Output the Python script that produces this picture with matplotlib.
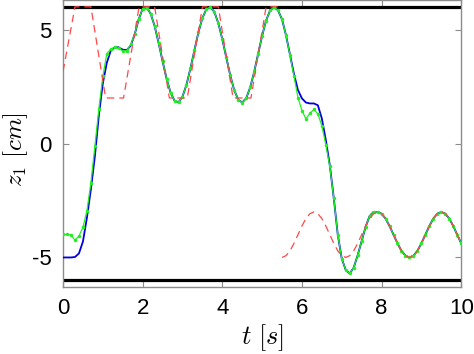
import matplotlib
matplotlib.use("Agg")
import matplotlib.pyplot as plt
import numpy as np

plt.rcParams["font.family"] = "Liberation Sans"
plt.rcParams["mathtext.fontset"] = "cm"
plt.rcParams["axes.unicode_minus"] = False

# sampled every 0.1 s
t = np.round(np.arange(101) * 0.1, 1)

z_actual = [-5.00, -5.00, -5.00, -4.98, -4.82, -4.30, -3.25, -2.00, -0.55, 1.25,
            2.65, 3.55, 4.08, 4.23, 4.22, 4.12, 4.10, 4.30, 4.80, 5.45,
            5.92, 5.97, 5.70, 5.16, 4.42, 3.61, 2.85, 2.24, 1.88, 1.81,
            2.06, 2.58, 3.30, 4.10, 4.88, 5.51, 5.90, 5.99, 5.78, 5.28,
            4.58, 3.78, 2.99, 2.34, 1.93, 1.80, 1.99, 2.46, 3.14, 3.94,
            4.73, 5.40, 5.84, 6.00, 5.84, 5.45, 4.75, 3.90, 3.05, 2.35,
            1.98, 1.80, 1.76, 1.76, 1.68, 1.10, 0.15, -0.95, -2.40, -4.00,
            -5.05, -5.55, -5.70, -5.45, -4.90, -4.28, -3.65, -3.18, -3.00, -3.00,
            -3.08, -3.29, -3.62, -4.00, -4.38, -4.71, -4.92, -5.00, -4.92, -4.71,
            -4.38, -4.00, -3.62, -3.29, -3.08, -3.00, -3.08, -3.29, -3.62, -4.00,
            -4.38]

z_est = [-3.99, -3.99, -4.00, -4.25, -4.06, -3.68, -2.95, -1.72, -0.12, 1.52,
         2.95, 3.95, 4.15, 4.22, 4.18, 4.06, 4.08, 4.35, 4.82, 5.45,
         5.92, 5.97, 5.70, 5.16, 4.42, 3.61, 2.85, 2.24, 1.88, 1.81,
         2.06, 2.58, 3.30, 4.10, 4.88, 5.51, 5.90, 5.99, 5.78, 5.28,
         4.58, 3.78, 2.99, 2.34, 1.93, 1.80, 1.99, 2.46, 3.14, 3.94,
         4.73, 5.40, 5.84, 6.00, 5.84, 5.45, 4.75, 3.88, 2.95, 2.02,
         1.45, 1.08, 1.32, 1.50, 1.30, 0.78, -0.05, -1.00, -2.40, -4.00,
         -5.05, -5.55, -5.70, -5.45, -4.90, -4.28, -3.65, -3.18, -3.00, -3.00,
         -3.08, -3.29, -3.62, -4.00, -4.38, -4.71, -4.92, -5.00, -4.92, -4.71,
         -4.38, -4.00, -3.62, -3.29, -3.08, -3.00, -3.08, -3.29, -3.62, -4.00,
         -4.38]

# reference, first part (clipped between 2 and 6)
t_ref1 = [0.0, 0.30, 0.70, 1.07, 1.52, 1.91, 2.30, 2.67, 3.12, 3.50, 3.90, 4.27, 4.72, 5.10, 5.50]
z_ref1 = [3.17, 6.0, 6.0, 2.0, 2.0, 6.0, 6.0, 2.0, 2.0, 6.0, 6.0, 2.0, 2.0, 6.0, 6.0]

# reference, second part
t_ref2 = np.round(np.arange(46) * 0.1 + 5.5, 1)
z_ref2 = [-5.00, -4.92, -4.71, -4.38, -4.00, -3.62, -3.29, -3.08, -3.00, -3.08,
          -3.29, -3.62, -4.00, -4.38, -4.71, -4.92, -5.00, -4.92, -4.71, -4.38,
          -4.00, -3.62, -3.29, -3.08, -3.00, -3.08, -3.29, -3.62, -4.00, -4.38,
          -4.71, -4.92, -5.00, -4.92, -4.71, -4.38, -4.00, -3.62, -3.29, -3.08,
          -3.00, -3.08, -3.29, -3.62, -4.00, -4.38]

limits = [6, -6]

fig = plt.figure(figsize=(4.74, 3.54), dpi=100)
ax = fig.add_axes([0.133, 0.189, 0.840, 0.811])

for lim in limits:
    ax.axhline(lim, color="black", linewidth=2.3, zorder=2)

ax.plot(t, z_actual, color="#0000e0", linewidth=1.3, zorder=3)
ax.plot(t, z_est, color="#22ee22", linewidth=0.9, marker=".", markersize=3, zorder=4)
ax.plot(t_ref1, z_ref1, color="#ff4848", linewidth=0.9, dashes=(6, 4), zorder=5)
ax.plot(t_ref2, z_ref2, color="#ff4848", linewidth=0.9, dashes=(6, 4), zorder=5)

ax.set_xlim(0, 10)
ax.set_ylim(-6.3, 6.3)
ax.set_xticks([0, 2, 4, 6, 8, 10])
ax.set_yticks([-5, 0, 5])

for s in ax.spines.values():
    s.set_color("#8c8c8c")
    s.set_linewidth(1.0)
ax.tick_params(direction="in", length=4, width=0.8, color="#8c8c8c",
               labelsize=16, top=True, right=True, pad=8)

ax.set_xlabel(r"$t\ [s]$", fontsize=19, labelpad=2)
ax.set_ylabel(r"$z_1\ [cm]$", fontsize=18)
ax.yaxis.set_label_coords(-0.082, 0.48)

fig.savefig("out.png", dpi=100)
